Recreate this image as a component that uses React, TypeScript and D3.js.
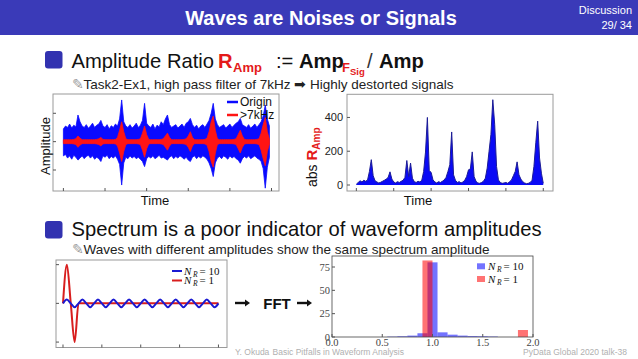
import React from "react";
import * as d3 from "d3";

const W = 638;
const H = 359;

// top-left: waveform envelopes (arbitrary units), one sample every 0.05
const waveStep = 0.05;
const originUpper = [
  0.45, 0.55, 0.5, 0.62, 0.48, 0.58, 0.52, 0.94, 0.7, 0.55,
  0.5, 0.6, 0.47, 0.55, 0.65, 0.5, 0.58, 0.62, 0.75, 0.55,
  0.5, 0.6, 0.45, 0.56, 0.5, 0.62, 0.55, 0.8, 1.47, 0.7,
  0.55, 0.5, 0.6, 0.48, 0.55, 0.65, 0.5, 0.58, 0.75, 1.35,
  0.65, 0.55, 0.5, 0.62, 0.45, 0.58, 0.52, 0.7, 0.6, 0.8,
  0.94, 0.6, 0.5, 0.55, 0.6, 0.48, 0.55, 0.62, 0.5, 0.65,
  0.7, 0.82, 0.6, 0.5, 0.58, 0.45, 0.55, 0.6, 0.5, 0.62,
  0.75, 1.0, 1.35, 0.8, 0.6, 0.5, 0.55, 0.6, 0.48, 0.55,
  0.62, 0.5, 0.58, 0.65, 0.7, 0.82, 0.6, 0.55, 0.5, 0.6,
  0.47, 0.55, 0.62, 0.5, 0.6, 0.7, 0.9, 1.29, 0.8, 0.55,
];
const originLower = [
  -0.5, -0.45, -0.58, -0.5, -0.62, -0.48, -0.55, -0.65, -0.58, -0.5,
  -0.6, -0.52, -0.48, -0.58, -0.5, -0.62, -0.55, -0.6, -0.7, -0.5,
  -0.55, -0.48, -0.6, -0.52, -0.58, -0.5, -0.62, -0.8, -1.53, -0.75,
  -0.55, -0.6, -0.5, -0.58, -0.52, -0.6, -0.55, -0.62, -0.7, -0.88,
  -0.6, -0.52, -0.58, -0.5, -0.6, -0.55, -0.48, -0.58, -0.55, -0.6,
  -0.65, -0.55, -0.5, -0.6, -0.52, -0.58, -0.5, -0.55, -0.62, -0.55,
  -0.65, -0.7, -0.55, -0.5, -0.6, -0.52, -0.58, -0.5, -0.55, -0.62,
  -0.75, -0.95, -1.23, -0.75, -0.58, -0.52, -0.6, -0.5, -0.55, -0.62,
  -0.5, -0.58, -0.52, -0.6, -0.65, -0.76, -0.6, -0.52, -0.58, -0.5,
  -0.6, -0.55, -0.5, -0.58, -0.62, -0.7, -0.95, -1.64, -0.9, -0.55,
];
const highPassHalf = [
  0.07, 0.07, 0.07, 0.07, 0.07, 0.08, 0.1, 0.2, 0.12, 0.07,
  0.07, 0.07, 0.07, 0.07, 0.07, 0.07, 0.08, 0.1, 0.15, 0.08,
  0.07, 0.07, 0.07, 0.07, 0.07, 0.08, 0.15, 0.4, 0.7, 0.35,
  0.1, 0.07, 0.07, 0.07, 0.07, 0.07, 0.08, 0.1, 0.3, 0.55,
  0.25, 0.08, 0.07, 0.07, 0.07, 0.07, 0.07, 0.08, 0.1, 0.2,
  0.3, 0.15, 0.07, 0.07, 0.07, 0.07, 0.07, 0.07, 0.08, 0.1,
  0.2, 0.35, 0.15, 0.07, 0.07, 0.07, 0.07, 0.07, 0.08, 0.12,
  0.35, 0.7, 0.9, 0.4, 0.1, 0.07, 0.07, 0.07, 0.07, 0.07,
  0.07, 0.07, 0.08, 0.1, 0.25, 0.4, 0.2, 0.08, 0.07, 0.07,
  0.07, 0.07, 0.07, 0.08, 0.1, 0.3, 0.6, 0.85, 0.35, 0.08,
];
const waveTicksX = [0, 1, 2, 3, 4, 5];
const waveTicksY = [-1, 0, 1];

// top-right: |R_Amp|, one sample every 0.05
const ratioStep = 0.05;
const ratioValues = [
  5, 15, 25, 18, 28, 22, 30, 80, 150, 55,
  25, 18, 12, 16, 22, 28, 35, 45, 78, 35,
  18, 12, 20, 15, 22, 28, 45, 145, 50, 130,
  40, 20, 15, 22, 18, 28, 80, 195, 400, 85,
  75, 30, 18, 12, 20, 15, 22, 30, 45, 80,
  120, 314, 60, 28, 15, 20, 12, 18, 28, 50,
  90, 95, 196, 50, 22, 12, 10, 15, 22, 40,
  100, 200, 300, 505, 360, 110, 30, 15, 10, 12,
  15, 10, 20, 30, 55, 80, 137, 60, 35, 20,
  12, 8, 10, 15, 28, 110, 250, 378, 160, 70,
  10,
];
const ratioTicksX = [0, 1, 2, 3, 4, 5];
const ratioTicksY = [0, 200, 400];

// bottom-left: waves sampled at quarter periods
const quarter = 0.25;
const waveNR10 = [
  0, 0.1, 0, -0.1, 0, 0.1, 0, -0.1, 0, 0.1,
  0, -0.1, 0, 0.1, 0, -0.1, 0, 0.1, 0, -0.1,
  0, 0.1, 0, -0.1, 0, 0.1, 0, -0.1, 0, 0.1,
  0, -0.1, 0, 0.1, 0, -0.1, 0, 0.1, 0, -0.1,
  0,
];
const waveNR1T = [0, 0.25, 0.5, 0.75, 1, 10];
const waveNR1 = [0, 1, 0, -1, 0, 0];
const shapeTicksX = [0, 2.5, 5, 7.5, 10];
const shapeTicksY = [-1, 0, 1];

// bottom-right: FFT amplitude histogram
const binWidth = 0.1;
const blueBins = [0.6, 0.7, 0.8, 0.9, 1.0, 1.1, 1.2, 1.3, 1.4, 1.5, 1.6];
const blueCounts = [0.4, 0.8, 1.5, 4, 80, 5, 2.5, 1.5, 1, 0.8, 0.5];
const redBins = [0.95, 1.9];
const redCounts = [82, 7.5];
const specTicksX = [0, 0.5, 1, 1.5, 2];
const specTicksY = [0, 25, 50, 75];
const legendLabels = ["10", "1"];

const sans = "'Liberation Sans', Arial, Helvetica, sans-serif";
const serif = "'Liberation Serif', 'DejaVu Serif', serif";
const frameColor = "#9a9a9a";
const tickColor = "#555";

// N_R = value, set in separate pieces
function NrLabel({ x, y, value }: { x: number; y: number; value: string }) {
  return (
    <g fontFamily={serif} fill="#111">
      <text x={x} y={y} fontSize={11} fontStyle="italic">N</text>
      <text x={x + 9} y={y + 2} fontSize={7.5} fontStyle="italic">R</text>
      <text x={x + 15.5} y={y} fontSize={11}>= {value}</text>
    </g>
  );
}

function WavePanel() {
  const x = d3.scaleLinear().domain([-0.25, 5.18]).range([53, 279]);
  const y = d3.scaleLinear().domain([-1.74, 1.68]).range([191, 94]);
  const idx = d3.range(originUpper.length);
  const band = d3
    .area<number>()
    .x((i) => x(i * waveStep))
    .y0((i) => y(originLower[i]))
    .y1((i) => y(originUpper[i]));
  const red = d3
    .area<number>()
    .x((i) => x(i * waveStep))
    .y0((i) => y(-highPassHalf[i]))
    .y1((i) => y(highPassHalf[i]));
  return (
    <g>
      <path d={band(idx) || ""} fill="#0a0aff" stroke="#0a0aff" strokeWidth={0.8} />
      <path d={red(idx) || ""} fill="#ff1414" stroke="#ff1414" strokeWidth={0.8} />
      <rect x={53} y={94} width={226} height={97} fill="none" stroke={frameColor} />
      {waveTicksY.map((t) => (
        <line key={t} x1={53} x2={56} y1={y(t)} y2={y(t)} stroke={tickColor} />
      ))}
      {waveTicksX.map((t) => (
        <line key={t} x1={x(t)} x2={x(t)} y1={191} y2={188} stroke={tickColor} />
      ))}
      {/* legend */}
      <line x1={227} x2={238} y1={102} y2={102} stroke="#0a0aff" strokeWidth={2.5} />
      <text x={240} y={106} fontSize={12} fontFamily={sans} fill="#111">Origin</text>
      <line x1={227} x2={238} y1={115} y2={115} stroke="#ff1414" strokeWidth={2.5} />
      <text x={240} y={119} fontSize={12} fontFamily={sans} fill="#111">&gt;7kHz</text>
      <text x={155} y={205} fontSize={13} fontFamily={sans} textAnchor="middle" fill="#111">Time</text>
      <text transform="translate(49.5,146) rotate(-90)" fontSize={13} fontFamily={sans} textAnchor="middle" fill="#111">
        Amplitude
      </text>
    </g>
  );
}

function RatioPanel() {
  const x = d3.scaleLinear().domain([-0.25, 5.26]).range([347, 553]);
  const y = d3.scaleLinear().domain([-35.5, 537]).range([191, 94.3]);
  const idx = d3.range(ratioValues.length);
  const area = d3
    .area<number>()
    .x((i) => x(i * ratioStep))
    .y0(y(0))
    .y1((i) => y(ratioValues[i]));
  const line = d3
    .line<number>()
    .x((i) => x(i * ratioStep))
    .y((i) => y(ratioValues[i]));
  return (
    <g>
      <path d={area(idx) || ""} fill="#0a0af5" />
      <path d={line(idx) || ""} fill="none" stroke="#1c1c96" strokeWidth={1} />
      <rect x={347} y={94.3} width={206} height={96.7} fill="none" stroke={frameColor} />
      {ratioTicksY.map((t) => (
        <g key={t}>
          <line x1={347} x2={350} y1={y(t)} y2={y(t)} stroke={tickColor} />
          <text x={343} y={y(t) + 4} fontSize={11} fontFamily={sans} textAnchor="end" fill="#222">
            {t}
          </text>
        </g>
      ))}
      {ratioTicksX.map((t) => (
        <line key={t} x1={x(t)} x2={x(t)} y1={191} y2={188} stroke={tickColor} />
      ))}
      <text x={418} y={205} fontSize={13} fontFamily={sans} textAnchor="middle" fill="#111">Time</text>
      <text transform="translate(317,187) rotate(-90)" fontFamily={sans} fill="#111">
        <tspan fontSize={14}>abs </tspan>
        <tspan fontSize={15} fontWeight="bold" fill="#e41a1a">R</tspan>
        <tspan fontSize={10} fontWeight="bold" fill="#e41a1a" dy={3}>Amp</tspan>
      </text>
    </g>
  );
}

function ShapePanel() {
  const x = d3.scaleLinear().domain([-0.45, 10.55]).range([56, 227]);
  const y = d3.scaleLinear().domain([-1.14, 1.12]).range([347.5, 260]);
  const curve = d3
    .line<[number, number]>()
    .x((d) => x(d[0]))
    .y((d) => y(d[1]))
    .curve(d3.curveMonotoneX);
  const blue = waveNR10.map((v, i) => [i * quarter, v] as [number, number]);
  const red = waveNR1.map((v, i) => [waveNR1T[i], v] as [number, number]);
  return (
    <g>
      <rect x={56} y={260} width={171} height={87.5} fill="none" stroke={frameColor} />
      {shapeTicksY.map((t) => (
        <line key={t} x1={56} x2={59} y1={y(t)} y2={y(t)} stroke={tickColor} />
      ))}
      {shapeTicksX.map((t) => (
        <line key={t} x1={x(t)} x2={x(t)} y1={347.5} y2={344.5} stroke={tickColor} />
      ))}
      <path d={curve(red) || ""} fill="none" stroke="#d81e1e" strokeWidth={2} />
      <path d={curve(blue) || ""} fill="none" stroke="#1a1ad2" strokeWidth={2} />
      <line x1={172} x2={182} y1={271} y2={271} stroke="#1a1ad2" strokeWidth={2} />
      <NrLabel x={184} y={274.5} value={legendLabels[0]} />
      <line x1={172} x2={182} y1={280.5} y2={280.5} stroke="#d81e1e" strokeWidth={2} />
      <NrLabel x={184} y={284} value={legendLabels[1]} />
    </g>
  );
}

function SpectrumPanel() {
  const x = d3.scaleLinear().domain([0, 2]).range([332, 533]);
  const y = d3.scaleLinear().domain([0, 86.8]).range([337, 256]);
  const bar = (c: number, v: number, fill: string, key: string) => (
    <rect
      key={key}
      x={x(c - binWidth / 2)}
      width={x(c + binWidth / 2) - x(c - binWidth / 2)}
      y={y(v)}
      height={y(0) - y(v)}
      fill={fill}
      fillOpacity={0.55}
    />
  );
  return (
    <g>
      {blueBins.map((c, i) => bar(c, blueCounts[i], "#0000ff", "b" + i))}
      {redBins.map((c, i) => bar(c, redCounts[i], "#ff0000", "r" + i))}
      <rect x={332} y={256} width={201} height={81} fill="none" stroke="#444" strokeWidth={0.8} />
      {specTicksY.map((t) => (
        <g key={t}>
          <line x1={332} x2={335} y1={y(t)} y2={y(t)} stroke={tickColor} />
          <text x={330} y={y(t) + 3.5} fontSize={10.5} fontFamily={serif} textAnchor="end" fill="#444">
            {t}
          </text>
        </g>
      ))}
      {specTicksX.map((t) => (
        <g key={t}>
          <line x1={x(t)} x2={x(t)} y1={337} y2={334} stroke={tickColor} />
          <text x={x(t)} y={345.5} fontSize={10.5} fontFamily={serif} textAnchor="middle" fill="#444">
            {t.toFixed(1)}
          </text>
        </g>
      ))}
      <rect x={477} y={263.3} width={8} height={6} fill="#0000ff" fillOpacity={0.55} />
      <NrLabel x={488} y={270} value={legendLabels[0]} />
      <rect x={477} y={276} width={8} height={6} fill="#ff0000" fillOpacity={0.55} />
      <NrLabel x={488} y={282.7} value={legendLabels[1]} />
    </g>
  );
}

function Arrow({ x1, x2, y }: { x1: number; x2: number; y: number }) {
  return (
    <g>
      <line x1={x1} x2={x2 - 4} y1={y} y2={y} stroke="#111" strokeWidth={2.4} />
      <path d={`M${x2 - 5},${y - 3.5} L${x2},${y} L${x2 - 5},${y + 3.5} Z`} fill="#111" />
    </g>
  );
}

export default function App() {
  return (
    <svg
      width={W}
      height={H}
      style={{ position: "absolute", left: 0, top: 0, background: "#fff" }}
      fontFamily={sans}
    >
      {/* header */}
      <rect x={0} y={0} width={W} height={35} fill="#3a3ab8" />
      <text x={321} y={25} fontSize={20} fontWeight="bold" fill="#fff" textAnchor="middle">
        Waves are Noises or Signals
      </text>
      <text x={632} y={13.5} fontSize={11} fill="#fff" textAnchor="end">Discussion</text>
      <text x={632} y={29} fontSize={11} fill="#fff" textAnchor="end">29/ 34</text>

      {/* bullet 1 */}
      <rect x={45} y={51} width={17.5} height={17.5} rx={3} fill="#3232b0" />
      <text x={71.5} y={68} fontSize={20.2} fill="#111">Amplitude Ratio</text>
      <text x={218} y={68} fontSize={20.2} fontWeight="bold" fill="#e41a1a">R</text>
      <text x={233} y={72} fontSize={13} fontWeight="bold" fill="#e41a1a">Amp</text>
      <text x={276} y={68} fontSize={20.2} fill="#111">:=</text>
      <text x={299} y={68} fontSize={20.2} fontWeight="bold" fill="#111">Amp</text>
      <text x={342} y={72} fontSize={13} fontWeight="bold" fill="#e41a1a">F</text>
      <text x={350} y={75} fontSize={9.5} fontWeight="bold" fill="#e41a1a">Sig</text>
      <text x={367} y={68} fontSize={20.2} fill="#333">/</text>
      <text x={379} y={68} fontSize={20.2} fontWeight="bold" fill="#111">Amp</text>
      <text x={71.5} y={89} fontSize={13.5} fill="#222">
        <tspan fill="#999">✎</tspan>Task2-Ex1, high pass filter of 7kHz ➡ Highly destorted signals
      </text>

      <WavePanel />
      <RatioPanel />

      {/* bullet 2 */}
      <rect x={45} y={221} width={17.5} height={17.5} rx={3} fill="#3232b0" />
      <text x={71.5} y={236} fontSize={20.2} fill="#111">
        Spectrum is a poor indicator of waveform amplitudes
      </text>
      <text x={71.5} y={254} fontSize={13.5} fill="#222">
        <tspan fill="#999">✎</tspan>Waves with different amplitudes show the same spectrum amplitude
      </text>

      <ShapePanel />
      <Arrow x1={235} x2={250} y={303} />
      <text x={277} y={308.5} fontSize={15} fontWeight="bold" fill="#111" textAnchor="middle">FFT</text>
      <Arrow x1={297} x2={312} y={303} />
      <SpectrumPanel />

      {/* footer */}
      <text x={235} y={355} fontSize={8.5} fill="#b0b0b0">Y. Okuda</text>
      <text x={272.5} y={355} fontSize={8.5} fill="#b0b0b0">Basic Pitfalls in Waveform Analysis</text>
      <text x={523} y={355} fontSize={8.5} fill="#b0b0b0">PyData Global 2020 talk-38</text>
    </svg>
  );
}
